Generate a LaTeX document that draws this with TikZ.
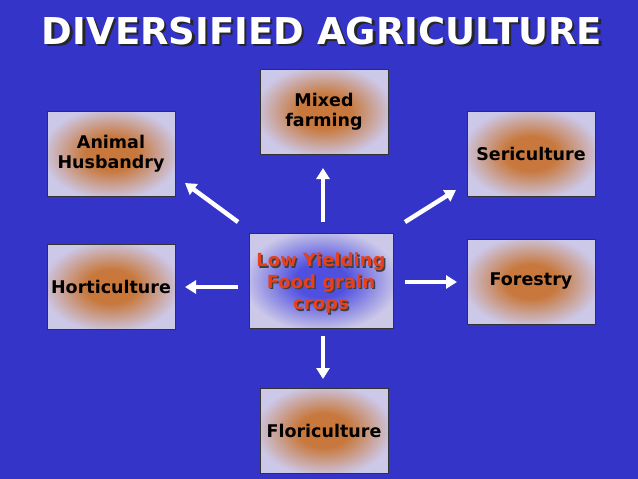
\documentclass[tikz,border=0pt]{standalone}
\usepackage{fontspec}
\setmainfont{DejaVu Sans}
\usetikzlibrary{arrows.meta}
\definecolor{bg}{HTML}{3434C8}
\definecolor{lav}{HTML}{CCC8E8}
\definecolor{orng}{HTML}{C8783C}
\definecolor{cblue}{HTML}{5050E0}
\definecolor{txtred}{HTML}{E8401C}
\pgfdeclareradialshading{boxshade}{\pgfpoint{0bp}{0bp}}{color(0bp)=(orng); color(10bp)=(orng); color(27bp)=(lav); color(50bp)=(lav)}
\pgfdeclareradialshading{centershade}{\pgfpoint{0bp}{0bp}}{color(0bp)=(cblue); color(9bp)=(cblue); color(27bp)=(lav); color(50bp)=(lav)}
\newcommand{\shadowed}[3]{\makebox[0pt][l]{\hspace{#1}\raisebox{-#1}{\color{#2}#3}}#3}
\tikzset{
  sbox/.style={draw=black!80, line width=0.8pt, shading=boxshade, minimum width=128pt, minimum height=85pt, font=\bfseries\fontsize{17.5}{20.5}\selectfont, align=center, inner sep=0pt},
  cbox/.style={draw=black!80, line width=0.8pt, shading=centershade, minimum width=144pt, minimum height=95pt, inner sep=0pt},
  ctxt/.style={align=center, text=txtred, font=\bfseries\fontsize{18}{21.5}\selectfont},
  arr/.style={draw=white, line width=4.5pt, -{Triangle[width=13pt,length=11pt]}},
}
\begin{document}
\begin{tikzpicture}[x=1pt,y=-1pt]
\fill[bg] (0,0) rectangle (638,479);
\useasboundingbox (0,0) rectangle (638,479);
% title
\node[text=white, font=\bfseries\fontsize{37}{42}\selectfont] (title) at (322,32) {\shadowed{2.5pt}{black!85}{DIVERSIFIED AGRICULTURE}};
% boxes
\node[sbox] (mixed) at (324,111.5) {Mixed\\farming};
\node[sbox] (animal) at (111,153.5) {Animal\\Husbandry};
\node[sbox] (seri) at (531,153.5) {Sericulture};
\node[sbox] (horti) at (111,286.5) {Horticulture};
\node[sbox] (forest) at (531,281.5) {Forestry};
\node[sbox] (flori) at (324,430.5) {Floriculture};
\node[cbox] (center) at (321,280.5) {};
\node[ctxt] (ctext) at (321,284) {\shadowed{1.5pt}{black!75}{Low Yielding}\\\shadowed{1.5pt}{black!75}{Food grain}\\\shadowed{1.5pt}{black!75}{crops}};
% arrows
\coordinate (cu) at (323,222);
\coordinate (cd) at (323,336);
\coordinate (cl) at (238,287);
\coordinate (cr) at (405,282);
\coordinate (cul) at (238,222);
\coordinate (cur) at (405,222);
\coordinate (tu) at (323,168);
\coordinate (td) at (323,379);
\coordinate (tl) at (185,287);
\coordinate (tr) at (457,282);
\coordinate (tul) at (185,183);
\coordinate (tur) at (456,190);
\draw[arr] (cu) -- (tu);
\draw[arr] (cd) -- (td);
\draw[arr] (cl) -- (tl);
\draw[arr] (cr) -- (tr);
\draw[arr] (cul) -- (tul);
\draw[arr] (cur) -- (tur);
\end{tikzpicture}
\end{document}
